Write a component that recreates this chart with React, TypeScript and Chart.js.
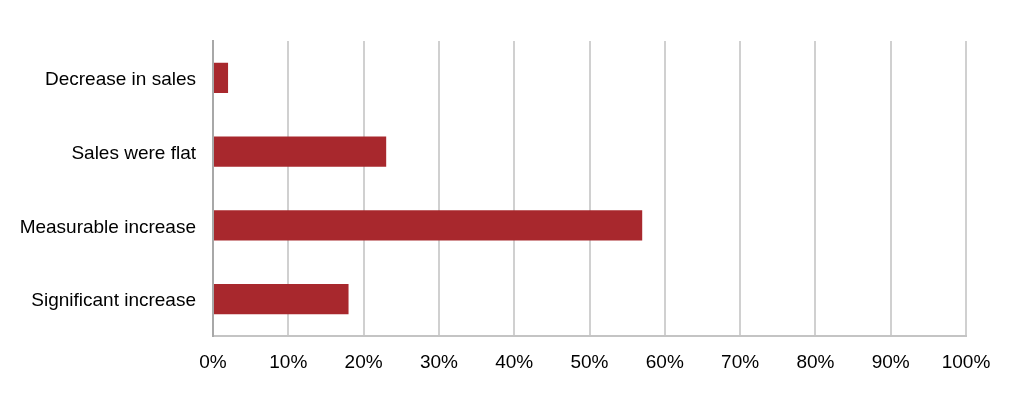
import React, { useEffect, useRef } from "react";
import { Chart, registerables } from "chart.js";

Chart.register(...registerables);

const categories = ["Decrease in sales", "Sales were flat", "Measurable increase", "Significant increase"];
const values = [2, 23, 57, 18];
const barColor = "#A8282D";

export default function App() {
  const ref = useRef<HTMLCanvasElement | null>(null);
  useEffect(() => {
    document.body.style.margin = "0";
    const ctx = ref.current!;
    const chart = new Chart(ctx, {
      type: "bar",
      data: {
        labels: categories,
        datasets: [
          {
            data: values,
            backgroundColor: barColor,
            borderWidth: 0,
            barPercentage: 0.82,
            categoryPercentage: 0.5,
          },
        ],
      },
      options: {
        indexAxis: "y",
        animation: false,
        responsive: false,
        maintainAspectRatio: false,
        layout: { padding: { top: 41, right: 58, left: 0, bottom: 0 } },
        plugins: { legend: { display: false }, tooltip: { enabled: false } },
        scales: {
          x: {
            min: 0,
            max: 100,
            ticks: {
              stepSize: 10,
              callback: (v: any) => v + "%",
              color: "#000",
              font: { family: "'Liberation Sans', Arial, sans-serif", size: 19 },
              padding: 15,
              maxRotation: 0,
            },
            grid: { color: "#d0d0d0", lineWidth: 2, drawTicks: false },
            border: { display: true, color: "#c4c4c4", width: 2 },
            afterFit: (s: any) => {
              s.height = 403 - 336;
            },
          },
          y: {
            ticks: {
              color: "#000",
              font: { family: "'Liberation Sans', Arial, sans-serif", size: 19 },
              padding: 17,
              labelOffset: 2,
            },
            grid: { display: false, drawTicks: false },
            border: { display: true, color: "#a8a8a8", width: 2 },
            afterFit: (s: any) => {
              s.width = 213;
            },
          },
        },
      },
    });
    return () => chart.destroy();
  }, []);
  return (
    <div style={{ width: 1024, height: 403, background: "#fff" }}>
      <canvas ref={ref} width={1024} height={403} style={{ display: "block" }} />
    </div>
  );
}
